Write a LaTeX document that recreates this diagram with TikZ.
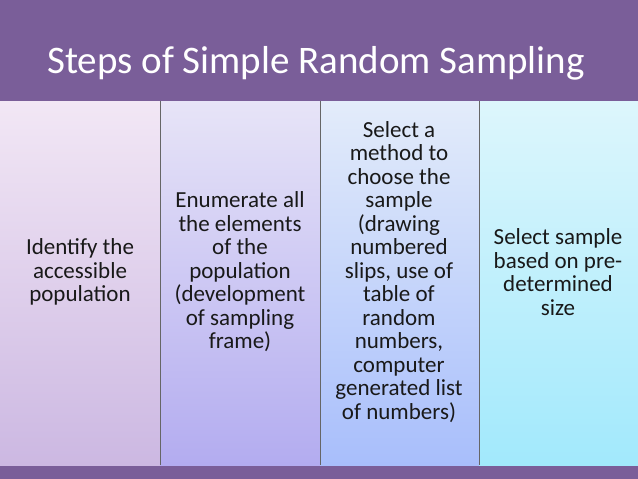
\documentclass[tikz,border=0pt]{standalone}
\usepackage{fontspec}
\setmainfont{Carlito}
\definecolor{hdr}{HTML}{7A5E99}
\definecolor{aT}{HTML}{F2E7F5}\definecolor{aB}{HTML}{CCB8E2}
\definecolor{bT}{HTML}{E7E4F7}\definecolor{bB}{HTML}{B3ACF0}
\definecolor{cT}{HTML}{E3ECFA}\definecolor{cB}{HTML}{A8BEFB}
\definecolor{dT}{HTML}{DDF6FC}\definecolor{dB}{HTML}{A2E9FC}
\begin{document}
\begin{tikzpicture}[x=1pt,y=-1pt,
 col/.style={draw=black!60,line width=0.6pt},
 txt/.style={align=center,font=\fontsize{23}{23.5}\selectfont,text=black!90}]
\useasboundingbox (0,0) rectangle (638,479);
\fill[hdr] (0,0) rectangle (638,101);
\fill[hdr] (0,465) rectangle (638,479);
\shade[top color=aT,bottom color=aB] (0,101) rectangle (160,465);
\shade[top color=bT,bottom color=bB] (160,101) rectangle (320,465);
\shade[top color=cT,bottom color=cB] (320,101) rectangle (479,465);
\shade[top color=dT,bottom color=dB] (479,101) rectangle (638,465);
\draw[col] (160,101) -- (160,465) (320,101) -- (320,465) (479,101) -- (479,465);
\node[text=white,font=\fontsize{39}{44}\selectfont] (title) at (316,63) {Steps of Simple Random Sampling};
\node[txt] (s1) at (80,272) {Identify the\\accessible\\population};
\node[txt] (s2) at (240,272) {Enumerate all\\the elements\\of the\\population\\(development\\of sampling\\frame)};
\node[txt] (s3) at (399,272) {Select a\\method to\\choose the\\sample\\(drawing\\numbered\\slips, use of\\table of\\random\\numbers,\\computer\\generated list\\of numbers)};
\node[txt] (s4) at (558,272) {Select sample\\based on pre-\\determined\\size};
\end{tikzpicture}
\end{document}
